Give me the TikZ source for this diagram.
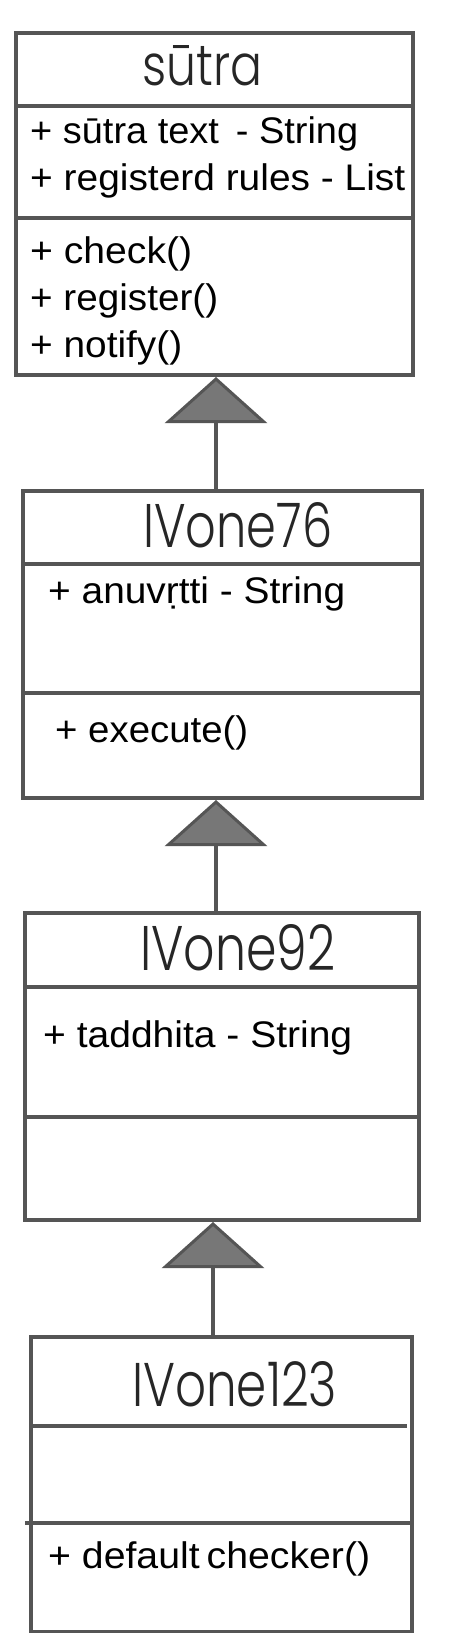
\documentclass[tikz,border=0pt]{standalone}
\usepackage{fontspec}
\setmainfont{Liberation Sans}
\newfontfamily\tfont{Poppins Light}
\usetikzlibrary{arrows.meta}
\definecolor{edge}{HTML}{555555}
\definecolor{trifill}{HTML}{777777}
\newcommand\fitw[2]{\resizebox{#1}{\height}{#2}}
\newcommand\fitwh[3]{\resizebox{#1}{#2}{#3}}
\begin{document}
\begin{tikzpicture}[x=1pt,y=-1pt,
  classbox/.style={draw=edge, line width=4pt, rectangle, inner sep=0pt, fill=white},
  sepline/.style={draw=edge, line width=4pt},
  body/.style={inner sep=0pt, anchor=base west, font=\fontsize{37}{40}\selectfont, text=black},
  ctitle/.style={inner sep=0pt, anchor=base west, font=\tfont\fontsize{60}{60}\selectfont, text=black!85},
  inh/.style={draw=edge, line width=4pt, -{Triangle[width=102pt,length=46pt,line width=3pt,fill=trifill,color=edge]}},
]
\useasboundingbox (0,0) rectangle (474,1633);
\clip (0,0) rectangle (474,1633);
\fill[white] (0,0) rectangle (474,1633);

% class boxes
\node[classbox, minimum width=397pt, minimum height=342pt] (b1) at (214.5,204) {};
\node[classbox, minimum width=399pt, minimum height=307pt] (b2) at (222.5,644.5) {};
\node[classbox, minimum width=394pt, minimum height=307pt] (b3) at (222,1066.5) {};
\node[classbox, minimum width=381pt, minimum height=295pt] (b4) at (221.5,1484.5) {};

% compartment separators
\draw[sepline] (b1.west |- 0,106) -- (b1.east |- 0,106);
\draw[sepline] (b1.west |- 0,218) -- (b1.east |- 0,218);
\draw[sepline] (b2.west |- 0,564) -- (b2.east |- 0,564);
\draw[sepline] (b2.west |- 0,693) -- (b2.east |- 0,693);
\draw[sepline] (b3.west |- 0,987) -- (b3.east |- 0,987);
\draw[sepline] (b3.west |- 0,1117) -- (b3.east |- 0,1117);
\draw[sepline] (b4.west |- 0,1426) -- (407,1426);
\draw[sepline] (25,1523) -- (b4.east |- 0,1523);

% titles
\node[ctitle] (n1) at (142,85) {\fitwh{120pt}{40pt}{sūtra}};
\node[ctitle] (n2) at (143,547) {\fitwh{189pt}{45pt}{IVone76}};
\node[ctitle] (n3) at (140,970) {\fitwh{195pt}{46pt}{IVone92}};
\node[ctitle] (n4) at (132,1406) {\fitwh{205pt}{45pt}{IVone123}};

% members
\node[body] (a11) at (30,143) {\fitw{328pt}{+ sūtra text\, - String}};
\node[body] (a12) at (30,190) {\fitw{375pt}{+ registerd rules - List}};
\node[body] (m11) at (30,263) {\fitw{162pt}{+ check()}};
\node[body] (m12) at (30,310) {\fitw{188pt}{+ register()}};
\node[body] (m13) at (30,357) {\fitw{152pt}{+ notify()}};
\node[body] (a21) at (48,603) {\fitw{297pt}{+ anuvṛtti - String}};
\node[body] (m21) at (55,742) {\fitw{193pt}{+ execute()}};
\node[body] (a31) at (43,1047) {\fitw{309pt}{+ taddhita - String}};
\node[body] (m41) at (48,1568) {\fitw{322pt}{+ default\kern-0.1em\ checker()}};

% generalisation connectors
\draw[inh] (216,0 |- b2.north) -- (216,0 |- b1.south);
\draw[inh] (216,0 |- b3.north) -- (216,0 |- b2.south);
\draw[inh] (213,0 |- b4.north) -- (213,0 |- b3.south);
\end{tikzpicture}
\end{document}
